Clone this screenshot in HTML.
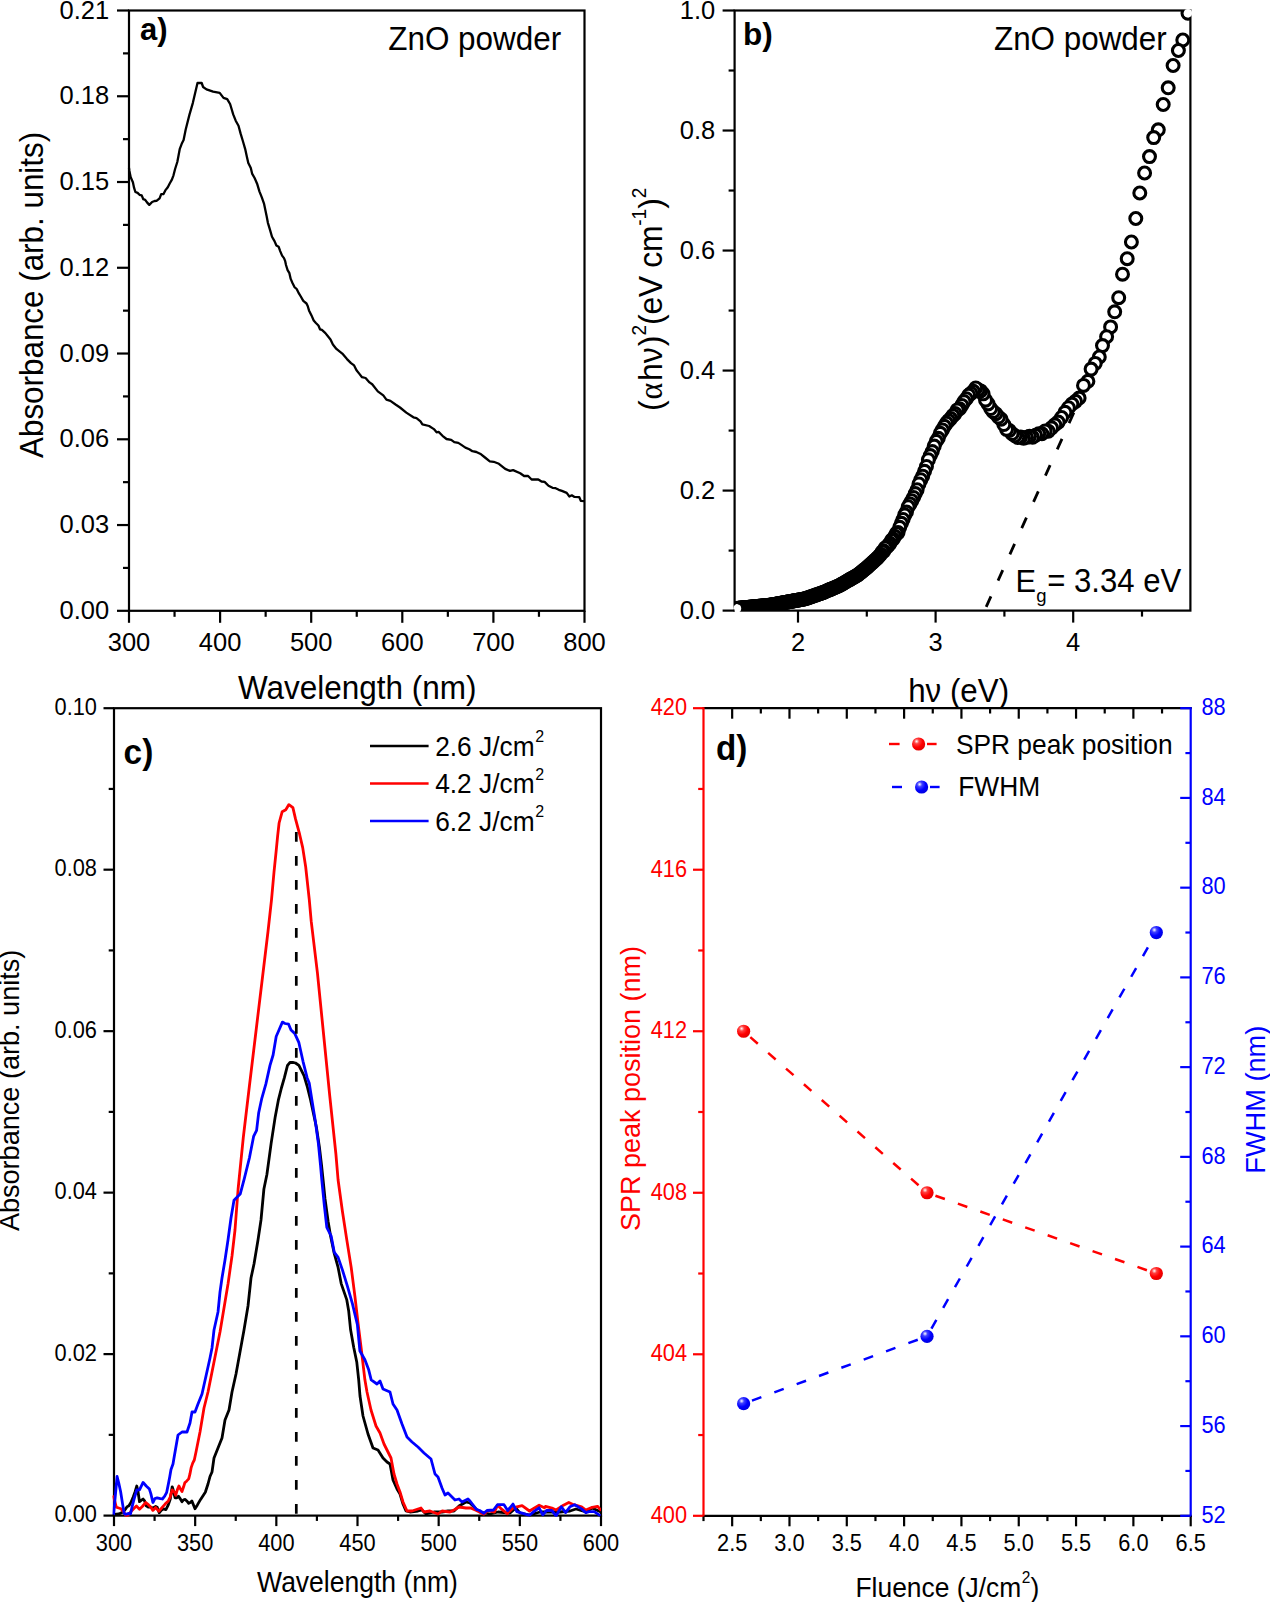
<!DOCTYPE html>
<html><head><meta charset="utf-8"><title>Figure</title>
<style>
html,body{margin:0;padding:0;background:#fff;}
svg{display:block;}
text{font-family:"Liberation Sans", sans-serif;}
</style></head>
<body>
<svg width="1270" height="1602" viewBox="0 0 1270 1602" font-family="Liberation Sans, sans-serif">
<rect width="1270" height="1602" fill="#fff"/>
<g>
<polyline points="129,168 129.4,170.9 130.7,177.2 132.9,182.2 134.1,187.9 135.4,192 137.6,192.9 139.5,194.8 141.7,195.4 143.3,199.2 145.2,199.8 147,202.4 149.3,204.9 152.1,202 154.6,201 156.5,200.8 159.6,198.3 161.2,194.2 163.4,194.2 165.3,190.4 167.8,187.2 169.7,183.5 171.9,179.7 173.5,175.3 175.1,169 177.3,162 178.5,155.7 179.8,148.8 181.7,143.8 183.6,140 185.7,129.5 189.4,114.9 192.8,103.1 197.5,83 201.7,83 203.1,87 206.5,89.4 213.1,91.7 219.7,92.9 223.5,97.9 227.2,99.1 230.1,104 231.9,110 233.2,114.4 235.7,120.7 238.5,125.7 240.7,133.9 243,141.5 245.2,149.1 246.7,156 248.3,162.9 250.8,168 252.1,173.6 254.6,178 257.1,183.7 259.4,191.3 261.9,197.6 264.1,203.9 265.4,210.2 266.7,216.5 267.9,222.8 269.8,229.1 272,236.7 274.5,241.1 276.4,245.5 278.6,246.7 280.2,251.1 282.1,255.6 284,258.1 285.2,261.2 286,265 287.6,270.1 289.4,273.2 290.7,278.9 292.6,283.3 294.5,287.1 296.7,289 298.9,293.4 300.8,296.5 303.3,300.9 306.5,303.5 307.7,306 309,310.4 311.5,315.4 313.7,320.5 315.9,323 318.4,325.5 320,329.3 321.9,329.9 325.4,333.1 327.9,336.2 330.5,339.4 332.9,344.6 336.4,348.9 342.3,353.6 347,359.1 351,363.1 354.1,365.4 356.5,370.2 359.6,374.1 362,377.2 365.6,378 369.5,382.4 372.2,384.3 377.8,391.4 383.3,395.4 386.4,399.7 390.4,400.9 395.9,404.8 400,407.5 406.3,412.6 413.4,417.3 416.5,418.1 420.5,421.3 422.4,424.4 429.1,426 433.9,429.1 436.6,432.3 438.6,431.9 442.5,435.8 446.5,439 451.2,439.8 454.3,442.1 458.3,442.9 461.4,444.9 465.4,447.6 469.3,449.2 472.4,451.2 476.4,452 481.1,454.3 485,457.5 489.8,461.4 493.7,461.8 498.9,463.8 505.2,468.9 510,470.9 513.1,470.1 520.2,473.2 524.1,476 528.1,476 531.6,479.5 538.3,479.5 541.5,481.5 544.6,481.9 548.5,485.8 552.5,487.8 555.6,488.2 558.8,489.8 561.9,490.9 566.7,492.9 569.4,496.5 571.8,495.3 574.5,496.9 579.3,497.2 580.8,500.8 584.5,501.2" fill="none" stroke="#000" stroke-width="2.3" stroke-linejoin="round"/>
<rect x="129" y="10.5" width="455.5" height="600.3" fill="none" stroke="#000" stroke-width="2.2"/>
<line x1="117" y1="610.8" x2="129" y2="610.8" stroke="#000" stroke-width="2.2" />
<text transform="translate(109.2,618.8) scale(1,1.04)" font-size="25.5" text-anchor="end" fill="#000" >0.00</text>
<line x1="123" y1="567.92" x2="129" y2="567.92" stroke="#000" stroke-width="2.2" />
<line x1="117" y1="525.04" x2="129" y2="525.04" stroke="#000" stroke-width="2.2" />
<text transform="translate(109.2,533.04) scale(1,1.04)" font-size="25.5" text-anchor="end" fill="#000" >0.03</text>
<line x1="123" y1="482.16" x2="129" y2="482.16" stroke="#000" stroke-width="2.2" />
<line x1="117" y1="439.29" x2="129" y2="439.29" stroke="#000" stroke-width="2.2" />
<text transform="translate(109.2,447.29) scale(1,1.04)" font-size="25.5" text-anchor="end" fill="#000" >0.06</text>
<line x1="123" y1="396.41" x2="129" y2="396.41" stroke="#000" stroke-width="2.2" />
<line x1="117" y1="353.53" x2="129" y2="353.53" stroke="#000" stroke-width="2.2" />
<text transform="translate(109.2,361.53) scale(1,1.04)" font-size="25.5" text-anchor="end" fill="#000" >0.09</text>
<line x1="123" y1="310.65" x2="129" y2="310.65" stroke="#000" stroke-width="2.2" />
<line x1="117" y1="267.77" x2="129" y2="267.77" stroke="#000" stroke-width="2.2" />
<text transform="translate(109.2,275.77) scale(1,1.04)" font-size="25.5" text-anchor="end" fill="#000" >0.12</text>
<line x1="123" y1="224.89" x2="129" y2="224.89" stroke="#000" stroke-width="2.2" />
<line x1="117" y1="182.01" x2="129" y2="182.01" stroke="#000" stroke-width="2.2" />
<text transform="translate(109.2,190.01) scale(1,1.04)" font-size="25.5" text-anchor="end" fill="#000" >0.15</text>
<line x1="123" y1="139.14" x2="129" y2="139.14" stroke="#000" stroke-width="2.2" />
<line x1="117" y1="96.26" x2="129" y2="96.26" stroke="#000" stroke-width="2.2" />
<text transform="translate(109.2,104.26) scale(1,1.04)" font-size="25.5" text-anchor="end" fill="#000" >0.18</text>
<line x1="123" y1="53.38" x2="129" y2="53.38" stroke="#000" stroke-width="2.2" />
<line x1="117" y1="10.5" x2="129" y2="10.5" stroke="#000" stroke-width="2.2" />
<text transform="translate(109.2,18.5) scale(1,1.04)" font-size="25.5" text-anchor="end" fill="#000" >0.21</text>
<line x1="129" y1="610.8" x2="129" y2="622.8" stroke="#000" stroke-width="2.2" />
<text transform="translate(129,651) scale(1,1.04)" font-size="25.5" text-anchor="middle" fill="#000" >300</text>
<line x1="174.55" y1="610.8" x2="174.55" y2="616.8" stroke="#000" stroke-width="2.2" />
<line x1="220.1" y1="610.8" x2="220.1" y2="622.8" stroke="#000" stroke-width="2.2" />
<text transform="translate(220.1,651) scale(1,1.04)" font-size="25.5" text-anchor="middle" fill="#000" >400</text>
<line x1="265.65" y1="610.8" x2="265.65" y2="616.8" stroke="#000" stroke-width="2.2" />
<line x1="311.2" y1="610.8" x2="311.2" y2="622.8" stroke="#000" stroke-width="2.2" />
<text transform="translate(311.2,651) scale(1,1.04)" font-size="25.5" text-anchor="middle" fill="#000" >500</text>
<line x1="356.75" y1="610.8" x2="356.75" y2="616.8" stroke="#000" stroke-width="2.2" />
<line x1="402.3" y1="610.8" x2="402.3" y2="622.8" stroke="#000" stroke-width="2.2" />
<text transform="translate(402.3,651) scale(1,1.04)" font-size="25.5" text-anchor="middle" fill="#000" >600</text>
<line x1="447.85" y1="610.8" x2="447.85" y2="616.8" stroke="#000" stroke-width="2.2" />
<line x1="493.4" y1="610.8" x2="493.4" y2="622.8" stroke="#000" stroke-width="2.2" />
<text transform="translate(493.4,651) scale(1,1.04)" font-size="25.5" text-anchor="middle" fill="#000" >700</text>
<line x1="538.95" y1="610.8" x2="538.95" y2="616.8" stroke="#000" stroke-width="2.2" />
<line x1="584.5" y1="610.8" x2="584.5" y2="622.8" stroke="#000" stroke-width="2.2" />
<text transform="translate(584.5,651) scale(1,1.04)" font-size="25.5" text-anchor="middle" fill="#000" >800</text>
<text transform="translate(238,698.8) scale(1,1.04)" font-size="31.5" text-anchor="start" fill="#000" >Wavelength (nm)</text>
<text transform="translate(42.9,294.9) rotate(-90) scale(1,1.04)" font-size="31.4" text-anchor="middle" fill="#000">Absorbance (arb. units)</text>
<text transform="translate(139.9,40.2) scale(1,1)" font-size="31" text-anchor="start" fill="#000" font-weight="bold" >a)</text>
<text transform="translate(388.2,50) scale(1,1.04)" font-size="31.45" text-anchor="start" fill="#000" >ZnO powder</text>
</g>
<defs><clipPath id="cb"><rect x="734.6" y="10.5" width="455.8" height="600.1"/></clipPath></defs>
<g clip-path="url(#cb)" fill="#fff" stroke="#000" stroke-width="3.1">
<circle cx="1188" cy="13.2" r="5.95"/>
<circle cx="1182.8" cy="40" r="5.95"/>
<circle cx="1178.4" cy="50.5" r="5.95"/>
<circle cx="1173.1" cy="65.5" r="5.95"/>
<circle cx="1168.2" cy="87.8" r="5.95"/>
<circle cx="1163.2" cy="104.5" r="5.95"/>
<circle cx="1158.3" cy="129.8" r="5.95"/>
<circle cx="1153.7" cy="137.6" r="5.95"/>
<circle cx="1149.5" cy="156.6" r="5.95"/>
<circle cx="1144.6" cy="173" r="5.95"/>
<circle cx="1139.8" cy="193" r="5.95"/>
<circle cx="1135.8" cy="218.5" r="5.95"/>
<circle cx="1131.4" cy="242" r="5.95"/>
<circle cx="1127.2" cy="258.7" r="5.95"/>
<circle cx="1122.5" cy="274.2" r="5.95"/>
<circle cx="1118.7" cy="297.7" r="5.95"/>
<circle cx="1114.7" cy="311.8" r="5.95"/>
<circle cx="1110.6" cy="326.9" r="5.95"/>
<circle cx="1106.6" cy="336.7" r="5.95"/>
<circle cx="1102.5" cy="345.6" r="5.95"/>
<circle cx="1099.3" cy="357" r="5.95"/>
<circle cx="1095.2" cy="363.4" r="5.95"/>
<circle cx="1091.1" cy="369.1" r="5.95"/>
<circle cx="1087.9" cy="381.3" r="5.95"/>
<circle cx="1083.5" cy="385.4" r="5.95"/>
<circle cx="1079.12" cy="398.04" r="5.95"/>
<circle cx="1075.52" cy="401.35" r="5.95"/>
<circle cx="1071.96" cy="404.06" r="5.95"/>
<circle cx="1068.45" cy="407.71" r="5.95"/>
<circle cx="1064.98" cy="412.29" r="5.95"/>
<circle cx="1061.56" cy="417.51" r="5.95"/>
<circle cx="1058.17" cy="422.08" r="5.95"/>
<circle cx="1054.84" cy="424.8" r="5.95"/>
<circle cx="1051.54" cy="427.85" r="5.95"/>
<circle cx="1048.28" cy="431.24" r="5.95"/>
<circle cx="1045.07" cy="430.97" r="5.95"/>
<circle cx="1041.89" cy="433.68" r="5.95"/>
<circle cx="1038.75" cy="433.8" r="5.95"/>
<circle cx="1035.65" cy="435.31" r="5.95"/>
<circle cx="1032.58" cy="437.2" r="5.95"/>
<circle cx="1029.55" cy="436.26" r="5.95"/>
<circle cx="1026.56" cy="437.35" r="5.95"/>
<circle cx="1023.6" cy="438.15" r="5.95"/>
<circle cx="1020.68" cy="437.01" r="5.95"/>
<circle cx="1017.79" cy="437.43" r="5.95"/>
<circle cx="1014.94" cy="435.76" r="5.95"/>
<circle cx="1012.11" cy="433.72" r="5.95"/>
<circle cx="1009.32" cy="430.55" r="5.95"/>
<circle cx="1006.57" cy="429.35" r="5.95"/>
<circle cx="1003.84" cy="424.57" r="5.95"/>
<circle cx="1001.14" cy="419.24" r="5.95"/>
<circle cx="998.47" cy="417.04" r="5.95"/>
<circle cx="995.84" cy="413.71" r="5.95"/>
<circle cx="993.23" cy="411.69" r="5.95"/>
<circle cx="990.65" cy="408.53" r="5.95"/>
<circle cx="988.1" cy="403.88" r="5.95"/>
<circle cx="985.57" cy="400.16" r="5.95"/>
<circle cx="983.08" cy="393.85" r="5.95"/>
<circle cx="980.61" cy="390.89" r="5.95"/>
<circle cx="978.16" cy="389.79" r="5.95"/>
<circle cx="975.74" cy="387.96" r="5.95"/>
<circle cx="973.35" cy="391.3" r="5.95"/>
<circle cx="970.98" cy="393.38" r="5.95"/>
<circle cx="968.64" cy="395.19" r="5.95"/>
<circle cx="966.32" cy="398.71" r="5.95"/>
<circle cx="964.03" cy="401.6" r="5.95"/>
<circle cx="961.76" cy="405.39" r="5.95"/>
<circle cx="959.51" cy="408.73" r="5.95"/>
<circle cx="957.29" cy="409.92" r="5.95"/>
<circle cx="955.09" cy="413.59" r="5.95"/>
<circle cx="952.91" cy="415.65" r="5.95"/>
<circle cx="950.75" cy="418.49" r="5.95"/>
<circle cx="948.61" cy="420.66" r="5.95"/>
<circle cx="946.5" cy="423.1" r="5.95"/>
<circle cx="944.41" cy="426.32" r="5.95"/>
<circle cx="942.33" cy="429.89" r="5.95"/>
<circle cx="940.28" cy="433.29" r="5.95"/>
<circle cx="938.25" cy="438.29" r="5.95"/>
<circle cx="936.23" cy="441.31" r="5.95"/>
<circle cx="934.24" cy="446.11" r="5.95"/>
<circle cx="932.26" cy="451.54" r="5.95"/>
<circle cx="930.31" cy="455.56" r="5.95"/>
<circle cx="928.37" cy="459.72" r="5.95"/>
<circle cx="926.45" cy="466.46" r="5.95"/>
<circle cx="924.55" cy="471.29" r="5.95"/>
<circle cx="922.67" cy="476.17" r="5.95"/>
<circle cx="920.8" cy="479.68" r="5.95"/>
<circle cx="918.96" cy="483.94" r="5.95"/>
<circle cx="917.12" cy="489.77" r="5.95"/>
<circle cx="915.31" cy="493.6" r="5.95"/>
<circle cx="913.51" cy="497.47" r="5.95"/>
<circle cx="911.73" cy="500.75" r="5.95"/>
<circle cx="909.97" cy="503.89" r="5.95"/>
<circle cx="908.22" cy="506.74" r="5.95"/>
<circle cx="906.48" cy="512.04" r="5.95"/>
<circle cx="904.77" cy="514.83" r="5.95"/>
<circle cx="903.06" cy="519.51" r="5.95"/>
<circle cx="901.38" cy="523.31" r="5.95"/>
<circle cx="899.7" cy="527.34" r="5.95"/>
<circle cx="898.05" cy="532.62" r="5.95"/>
<circle cx="896.4" cy="533.34" r="5.95"/>
<circle cx="894.77" cy="536.31" r="5.95"/>
<circle cx="893.16" cy="539.03" r="5.95"/>
<circle cx="891.56" cy="540.37" r="5.95"/>
<circle cx="889.97" cy="543.33" r="5.95"/>
<circle cx="888.4" cy="545.17" r="5.95"/>
<circle cx="886.84" cy="547.02" r="5.95"/>
<circle cx="885.29" cy="547.91" r="5.95"/>
<circle cx="883.76" cy="551.09" r="5.95"/>
<circle cx="882.24" cy="551.68" r="5.95"/>
<circle cx="880.73" cy="554.26" r="5.95"/>
<circle cx="879.23" cy="555.94" r="5.95"/>
<circle cx="877.75" cy="557.62" r="5.95"/>
<circle cx="876.28" cy="558.97" r="5.95"/>
<circle cx="874.82" cy="560.31" r="5.95"/>
<circle cx="873.37" cy="561.64" r="5.95"/>
<circle cx="871.94" cy="562.96" r="5.95"/>
<circle cx="870.52" cy="564.27" r="5.95"/>
<circle cx="869.1" cy="565.57" r="5.95"/>
<circle cx="867.7" cy="566.85" r="5.95"/>
<circle cx="866.32" cy="568.05" r="5.95"/>
<circle cx="864.94" cy="569.17" r="5.95"/>
<circle cx="863.57" cy="570.27" r="5.95"/>
<circle cx="862.22" cy="571.37" r="5.95"/>
<circle cx="860.87" cy="572.46" r="5.95"/>
<circle cx="859.54" cy="573.54" r="5.95"/>
<circle cx="858.21" cy="574.61" r="5.95"/>
<circle cx="856.9" cy="575.4" r="5.95"/>
<circle cx="855.6" cy="576.15" r="5.95"/>
<circle cx="854.3" cy="576.91" r="5.95"/>
<circle cx="853.02" cy="577.65" r="5.95"/>
<circle cx="851.75" cy="578.39" r="5.95"/>
<circle cx="850.48" cy="579.12" r="5.95"/>
<circle cx="849.23" cy="579.85" r="5.95"/>
<circle cx="847.98" cy="580.57" r="5.95"/>
<circle cx="846.75" cy="581.29" r="5.95"/>
<circle cx="845.52" cy="582" r="5.95"/>
<circle cx="844.31" cy="582.71" r="5.95"/>
<circle cx="843.1" cy="583.41" r="5.95"/>
<circle cx="841.9" cy="584.11" r="5.95"/>
<circle cx="840.71" cy="584.8" r="5.95"/>
<circle cx="839.53" cy="585.48" r="5.95"/>
<circle cx="838.36" cy="585.98" r="5.95"/>
<circle cx="837.2" cy="586.48" r="5.95"/>
<circle cx="836.04" cy="586.97" r="5.95"/>
<circle cx="834.9" cy="587.45" r="5.95"/>
<circle cx="833.76" cy="587.94" r="5.95"/>
<circle cx="832.63" cy="588.42" r="5.95"/>
<circle cx="831.51" cy="588.89" r="5.95"/>
<circle cx="830.4" cy="589.36" r="5.95"/>
<circle cx="829.29" cy="589.83" r="5.95"/>
<circle cx="828.19" cy="590.3" r="5.95"/>
<circle cx="827.11" cy="590.76" r="5.95"/>
<circle cx="826.02" cy="591.22" r="5.95"/>
<circle cx="824.95" cy="591.68" r="5.95"/>
<circle cx="823.88" cy="592.13" r="5.95"/>
<circle cx="822.82" cy="592.58" r="5.95"/>
<circle cx="821.77" cy="592.98" r="5.95"/>
<circle cx="820.73" cy="593.34" r="5.95"/>
<circle cx="819.69" cy="593.7" r="5.95"/>
<circle cx="818.66" cy="594.06" r="5.95"/>
<circle cx="817.64" cy="594.42" r="5.95"/>
<circle cx="816.62" cy="594.77" r="5.95"/>
<circle cx="815.62" cy="595.12" r="5.95"/>
<circle cx="814.61" cy="595.47" r="5.95"/>
<circle cx="813.62" cy="595.81" r="5.95"/>
<circle cx="812.63" cy="596.15" r="5.95"/>
<circle cx="811.65" cy="596.49" r="5.95"/>
<circle cx="810.68" cy="596.83" r="5.95"/>
<circle cx="809.71" cy="597.17" r="5.95"/>
<circle cx="808.75" cy="597.5" r="5.95"/>
<circle cx="807.79" cy="597.83" r="5.95"/>
<circle cx="806.84" cy="598.16" r="5.95"/>
<circle cx="805.9" cy="598.49" r="5.95"/>
<circle cx="804.96" cy="598.81" r="5.95"/>
<circle cx="804.03" cy="598.98" r="5.95"/>
<circle cx="803.11" cy="599.15" r="5.95"/>
<circle cx="802.19" cy="599.31" r="5.95"/>
<circle cx="801.28" cy="599.48" r="5.95"/>
<circle cx="800.37" cy="599.65" r="5.95"/>
<circle cx="799.47" cy="599.81" r="5.95"/>
<circle cx="798.58" cy="599.97" r="5.95"/>
<circle cx="797.69" cy="600.14" r="5.95"/>
<circle cx="796.81" cy="600.3" r="5.95"/>
<circle cx="795.93" cy="600.46" r="5.95"/>
<circle cx="795.06" cy="600.62" r="5.95"/>
<circle cx="794.19" cy="600.78" r="5.95"/>
<circle cx="793.33" cy="600.93" r="5.95"/>
<circle cx="792.48" cy="601.09" r="5.95"/>
<circle cx="791.63" cy="601.25" r="5.95"/>
<circle cx="790.78" cy="601.4" r="5.95"/>
<circle cx="789.94" cy="601.55" r="5.95"/>
<circle cx="789.11" cy="601.71" r="5.95"/>
<circle cx="788.28" cy="601.86" r="5.95"/>
<circle cx="787.46" cy="602.01" r="5.95"/>
<circle cx="786.64" cy="602.16" r="5.95"/>
<circle cx="785.82" cy="602.31" r="5.95"/>
<circle cx="785.02" cy="602.45" r="5.95"/>
<circle cx="784.21" cy="602.6" r="5.95"/>
<circle cx="783.41" cy="602.75" r="5.95"/>
<circle cx="782.62" cy="602.89" r="5.95"/>
<circle cx="781.83" cy="603.04" r="5.95"/>
<circle cx="781.05" cy="603.18" r="5.95"/>
<circle cx="780.27" cy="603.32" r="5.95"/>
<circle cx="779.49" cy="603.46" r="5.95"/>
<circle cx="778.72" cy="603.6" r="5.95"/>
<circle cx="777.96" cy="603.74" r="5.95"/>
<circle cx="777.2" cy="603.88" r="5.95"/>
<circle cx="776.44" cy="604.02" r="5.95"/>
<circle cx="775.69" cy="604.16" r="5.95"/>
<circle cx="774.94" cy="604.3" r="5.95"/>
<circle cx="774.2" cy="604.43" r="5.95"/>
<circle cx="773.46" cy="604.57" r="5.95"/>
<circle cx="772.73" cy="604.7" r="5.95"/>
<circle cx="772" cy="604.84" r="5.95"/>
<circle cx="771.27" cy="604.97" r="5.95"/>
<circle cx="770.55" cy="605.1" r="5.95"/>
<circle cx="769.83" cy="605.22" r="5.95"/>
<circle cx="769.12" cy="605.29" r="5.95"/>
<circle cx="768.41" cy="605.36" r="5.95"/>
<circle cx="767.7" cy="605.42" r="5.95"/>
<circle cx="767" cy="605.49" r="5.95"/>
<circle cx="766.31" cy="605.56" r="5.95"/>
<circle cx="765.61" cy="605.63" r="5.95"/>
<circle cx="764.92" cy="605.7" r="5.95"/>
<circle cx="764.24" cy="605.76" r="5.95"/>
<circle cx="763.56" cy="605.83" r="5.95"/>
<circle cx="762.88" cy="605.9" r="5.95"/>
<circle cx="762.21" cy="605.96" r="5.95"/>
<circle cx="761.54" cy="606.03" r="5.95"/>
<circle cx="760.87" cy="606.09" r="5.95"/>
<circle cx="760.21" cy="606.16" r="5.95"/>
<circle cx="759.55" cy="606.22" r="5.95"/>
<circle cx="758.89" cy="606.29" r="5.95"/>
<circle cx="758.24" cy="606.35" r="5.95"/>
<circle cx="757.59" cy="606.41" r="5.95"/>
<circle cx="756.95" cy="606.48" r="5.95"/>
<circle cx="756.31" cy="606.54" r="5.95"/>
<circle cx="755.67" cy="606.6" r="5.95"/>
<circle cx="755.04" cy="606.66" r="5.95"/>
<circle cx="754.41" cy="606.73" r="5.95"/>
<circle cx="753.78" cy="606.79" r="5.95"/>
<circle cx="753.16" cy="606.85" r="5.95"/>
<circle cx="752.53" cy="606.91" r="5.95"/>
<circle cx="751.92" cy="606.97" r="5.95"/>
<circle cx="751.3" cy="607.03" r="5.95"/>
<circle cx="750.69" cy="607.09" r="5.95"/>
<circle cx="750.09" cy="607.15" r="5.95"/>
<circle cx="749.48" cy="607.21" r="5.95"/>
<circle cx="748.88" cy="607.27" r="5.95"/>
<circle cx="748.28" cy="607.33" r="5.95"/>
<circle cx="747.69" cy="607.38" r="5.95"/>
<circle cx="747.1" cy="607.44" r="5.95"/>
<circle cx="746.51" cy="607.5" r="5.95"/>
<circle cx="745.93" cy="607.56" r="5.95"/>
<circle cx="745.34" cy="607.61" r="5.95"/>
<circle cx="744.76" cy="607.67" r="5.95"/>
<circle cx="744.19" cy="607.73" r="5.95"/>
<circle cx="743.62" cy="607.78" r="5.95"/>
<circle cx="743.05" cy="607.84" r="5.95"/>
<circle cx="742.48" cy="607.89" r="5.95"/>
<circle cx="741.91" cy="607.95" r="5.95"/>
<circle cx="741.35" cy="608" r="5.95"/>
<circle cx="740.79" cy="608.06" r="5.95"/>
<circle cx="740.24" cy="608.11" r="5.95"/>
<circle cx="739.69" cy="608.17" r="5.95"/>
<circle cx="739.14" cy="608.22" r="5.95"/>
<circle cx="738.59" cy="608.27" r="5.95"/>
<circle cx="738.04" cy="608.33" r="5.95"/>
<circle cx="737.5" cy="608.38" r="5.95"/>
<circle cx="736.96" cy="608.42" r="5.95"/>
<circle cx="736.43" cy="608.45" r="5.95"/>
<circle cx="735.89" cy="608.49" r="5.95"/>
</g>
<line x1="986.2" y1="606.9" x2="1075" y2="410" stroke="#000" stroke-width="2.8" stroke-dasharray="11.5 17.3"/>
<rect x="734.6" y="10.5" width="455.8" height="600.1" fill="none" stroke="#000" stroke-width="2.2"/>
<circle cx="1188" cy="13.2" r="4.1" fill="#fff"/>
<circle cx="737.3" cy="608.4" r="3.9" fill="#fff"/>
<line x1="722.6" y1="610.6" x2="734.6" y2="610.6" stroke="#000" stroke-width="2.2" />
<text transform="translate(715.3,618.6) scale(1,1.04)" font-size="25.5" text-anchor="end" fill="#000" >0.0</text>
<line x1="728.6" y1="550.59" x2="734.6" y2="550.59" stroke="#000" stroke-width="2.2" />
<line x1="722.6" y1="490.58" x2="734.6" y2="490.58" stroke="#000" stroke-width="2.2" />
<text transform="translate(715.3,498.58) scale(1,1.04)" font-size="25.5" text-anchor="end" fill="#000" >0.2</text>
<line x1="728.6" y1="430.57" x2="734.6" y2="430.57" stroke="#000" stroke-width="2.2" />
<line x1="722.6" y1="370.56" x2="734.6" y2="370.56" stroke="#000" stroke-width="2.2" />
<text transform="translate(715.3,378.56) scale(1,1.04)" font-size="25.5" text-anchor="end" fill="#000" >0.4</text>
<line x1="728.6" y1="310.55" x2="734.6" y2="310.55" stroke="#000" stroke-width="2.2" />
<line x1="722.6" y1="250.54" x2="734.6" y2="250.54" stroke="#000" stroke-width="2.2" />
<text transform="translate(715.3,258.54) scale(1,1.04)" font-size="25.5" text-anchor="end" fill="#000" >0.6</text>
<line x1="728.6" y1="190.53" x2="734.6" y2="190.53" stroke="#000" stroke-width="2.2" />
<line x1="722.6" y1="130.52" x2="734.6" y2="130.52" stroke="#000" stroke-width="2.2" />
<text transform="translate(715.3,138.52) scale(1,1.04)" font-size="25.5" text-anchor="end" fill="#000" >0.8</text>
<line x1="728.6" y1="70.51" x2="734.6" y2="70.51" stroke="#000" stroke-width="2.2" />
<line x1="722.6" y1="10.5" x2="734.6" y2="10.5" stroke="#000" stroke-width="2.2" />
<text transform="translate(715.3,18.5) scale(1,1.04)" font-size="25.5" text-anchor="end" fill="#000" >1.0</text>
<line x1="798" y1="610.6" x2="798" y2="622.6" stroke="#000" stroke-width="2.2" />
<text transform="translate(798,651) scale(1,1.04)" font-size="25.5" text-anchor="middle" fill="#000" >2</text>
<line x1="866.8" y1="610.6" x2="866.8" y2="616.6" stroke="#000" stroke-width="2.2" />
<line x1="935.6" y1="610.6" x2="935.6" y2="622.6" stroke="#000" stroke-width="2.2" />
<text transform="translate(935.6,651) scale(1,1.04)" font-size="25.5" text-anchor="middle" fill="#000" >3</text>
<line x1="1004.4" y1="610.6" x2="1004.4" y2="616.6" stroke="#000" stroke-width="2.2" />
<line x1="1073.2" y1="610.6" x2="1073.2" y2="622.6" stroke="#000" stroke-width="2.2" />
<text transform="translate(1073.2,651) scale(1,1.04)" font-size="25.5" text-anchor="middle" fill="#000" >4</text>
<line x1="1142" y1="610.6" x2="1142" y2="616.6" stroke="#000" stroke-width="2.2" />
<text transform="translate(908.2,702.1) scale(1,1.04)" font-size="31.3" text-anchor="start" fill="#000" >hν (eV)</text>
<text font-size="32" text-anchor="middle" transform="translate(662.1,299.3) rotate(-90) scale(1,1.04)">(<tspan font-family="Liberation Serif, serif" font-size="32" dx="0.8">α</tspan><tspan dx="1.8">hν</tspan><tspan dx="1">)</tspan><tspan font-size="19" dy="-15.5">2</tspan><tspan dy="15.5" letter-spacing="-0.35">(eV cm</tspan><tspan font-size="19" dy="-15.5">-1</tspan><tspan dy="15.5">)</tspan><tspan font-size="19" dy="-15.5">2</tspan></text>
<text transform="translate(743,44.8) scale(1,1)" font-size="31.5" text-anchor="start" fill="#000" font-weight="bold" >b)</text>
<text transform="translate(994,50) scale(1,1.04)" font-size="31.4" text-anchor="start" fill="#000" >ZnO powder</text>
<text transform="translate(1015.6,591.6) scale(1,1.04)" font-size="30.8" text-anchor="start" fill="#000" >E</text>
<text transform="translate(1036.3,602.4) scale(1,1.04)" font-size="18.5" text-anchor="start" fill="#000" >g</text>
<text transform="translate(1047.2,591.6) scale(1,1.04)" font-size="31.1" text-anchor="start" fill="#000" >= 3.34 eV</text>
<rect x="114" y="708.2" width="487" height="807.4" fill="none" stroke="#000" stroke-width="2.2"/>
<defs><clipPath id="cc"><rect x="112.5" y="708.2" width="488.5" height="808.6"/></clipPath></defs>
<g clip-path="url(#cc)" fill="none" stroke-width="2.8" stroke-linejoin="round">
<polyline points="114,1514.5 119,1514 123,1512 125.7,1508.8 126.9,1506.9 128.9,1505.7 130.9,1502.5 133.2,1497 135.2,1491.5 136.8,1486 138,1491.5 139.5,1501.7 141.5,1500.2 143.1,1499 144.6,1500.9 146.2,1505.7 148.6,1507.2 150.9,1507.2 152.9,1508 155.7,1506.5 157.2,1507.2 159.2,1512.8 161.2,1510.4 163.5,1508.8 165.9,1509.6 168.3,1504.9 170.2,1499.4 172.2,1486.8 173,1489.1 175,1497.8 176.9,1497.8 178.5,1496.2 180.1,1498.6 182,1501.7 183.6,1499.8 185.2,1499.4 186.8,1500.9 188.7,1503.3 190.3,1502.5 191.9,1500.9 195,1508.8 197.4,1504.9 200.6,1499.4 205.3,1492.3 208,1484 210,1476.5 212,1472 214,1458 218,1448 222,1438 225,1420 229,1410 232,1392 236,1374 240,1352 244,1330 248,1306 251,1278 254,1264 258,1240 261,1220 263.9,1189 266.9,1174.5 271.1,1143.6 275.2,1116.9 278.3,1100.4 281.4,1088 284.4,1077.7 287.5,1065.4 290,1062.5 292.7,1062.3 295.5,1063 298.9,1065.4 304,1075.7 307.1,1086 310.2,1098.3 313.3,1112.7 316.4,1127.2 319.5,1147.8 321.5,1165 323.1,1180 325,1198.7 328.1,1221.2 330.6,1236.2 334.3,1253.7 338.1,1267.4 341.2,1283.6 346.8,1299.9 348.7,1311.1 350.6,1329.8 353.7,1347.3 356.8,1362.3 358.7,1379.8 360,1396 363,1416 368,1434 373,1448 378,1450 383,1458 387,1462 390,1464 393,1480 397,1489 400,1494 403,1504 406,1511 410,1512 418,1511 422,1510 426,1514 434,1512 442,1512 448,1511 454,1511 459,1506 466,1502 470,1503 476,1509 480,1512 490,1514 498,1512 510,1513 516,1508 520,1513 530,1515 540,1512 550,1512 560,1512 570,1511 576,1509 586,1512 592,1508 601,1512" stroke="#000"/>
<polyline points="113.1,1495.4 114.7,1500.9 116.3,1507.2 118.7,1508 121,1508.8 123.8,1512 126.1,1515.9 128.1,1515.1 130.5,1512 133.6,1508.8 136.4,1506.1 139.5,1509.2 142.3,1506.5 145.8,1502.5 148.6,1504.9 150.9,1507.2 152.9,1510.4 155.7,1507.6 158.8,1511.2 162,1507.6 165.1,1504.1 168.3,1500.9 170.2,1497 172.2,1489.9 174.6,1492.3 175.7,1495.4 177.3,1489.9 178.9,1486 180.5,1489.1 182,1491.5 183.6,1486.8 184.8,1482.8 186.8,1480.9 188.7,1478.9 189.9,1474.2 191.1,1467.9 192.7,1463.1 194.3,1460 196,1452 200,1432 204,1408 208,1392 212,1372 216,1352 220,1332 224,1308 228,1284 232,1256 235,1230 238.1,1189 243.3,1137.5 249.4,1086 255.6,1034.5 261.8,983 268,931.5 271.5,899.8 274,872.1 276.1,851.6 277.6,836.3 279.1,823 282.2,811.7 285.8,809.7 288.9,804.6 292.9,807.6 295.5,818.9 299.6,834.2 302.7,847.6 305.7,867 309.3,899.8 311.2,921.2 317.4,972.7 323.6,1034.5 329.8,1096.3 335.9,1154 338.1,1180 342.4,1211.2 346.8,1239.9 351.2,1267.4 354.9,1296.1 358.1,1323.6 361.2,1348.5 364.9,1379.8 367,1392 371,1410 376,1426 380,1433 384,1444 388,1452 391,1458 394,1474 397,1484 400,1492 403,1502 407,1511 412,1511 418,1509 421,1508 424,1512 430,1511 438,1514 442,1511 450,1512 454,1510 459,1507 466,1508 470,1507.8 476.4,1510.5 483.8,1514.2 488.1,1510.5 494.4,1512.1 497.6,1505.2 501.9,1509.4 507.2,1513.7 512.5,1508.4 516.8,1506.8 522.1,1505.7 529.5,1511 539.1,1505.2 544.4,1507.8 545.5,1506.3 552.9,1508.4 556.1,1510 563.5,1505.2 568.8,1502.5 573.6,1504.7 581.6,1506.8 585.8,1510 592.2,1507.3 597.5,1506.3 601.2,1510.5" stroke="#f00"/>
<polyline points="113.5,1515.1 117.1,1476.5 118.7,1482.8 120.6,1491.5 122.6,1504.1 124.2,1513.5 125.7,1514.3 128.1,1513.5 130.5,1513.9 132,1507.2 134,1499.4 136.8,1489.9 139.5,1489.9 143.1,1482.4 146.2,1486 149.4,1489.1 150.9,1493.9 152.9,1502.5 154.9,1498.6 157.2,1497.8 160.4,1498.6 162.4,1499 164.7,1496.2 166.7,1492.3 168.3,1484.4 169.8,1476.5 171,1469.4 173,1463.9 174,1458 178,1435 182,1432 187,1432 190,1423 192,1412 195,1412 198,1404 202,1394 206,1376 210,1358 212,1348 214,1330 218,1312 220,1292 222,1278 225,1260 228,1240 231,1218 234,1200.3 240.2,1194.1 244.3,1178.7 249.4,1158 253.6,1136.4 256.6,1130.3 258.7,1112.7 261.8,1098.3 265.9,1083.9 270,1065.4 273.1,1055 276.2,1036.5 279,1030 282.4,1022.1 285,1023.5 288.6,1024.2 291,1030 294.7,1033.4 298.9,1042.7 303,1061.3 307.1,1077.7 309.2,1082.9 312.3,1102.5 315.3,1121 318.4,1143.6 320.5,1165 321.8,1180 324.3,1205 326.8,1227.4 331.2,1236.2 334.3,1252.4 338.1,1257.4 342.4,1269.9 347.4,1286.1 352.4,1303.6 357.4,1324.8 359.9,1351 364.9,1359.8 368.7,1369.8 371.2,1379.8 377,1384 380,1381 383,1389 390,1392 393,1404 397,1410 402,1424 407,1437 412,1442 418,1447 424,1453 431,1459 435,1474 438,1477 442,1488 445,1495 448,1493 455,1500 459,1499 462,1502 468,1499 470,1501 476.4,1509.4 479.6,1510.5 483.8,1513.2 487,1510.5 493.4,1510 497.6,1504.7 504,1504.7 507.7,1510.5 513,1504.1 516.8,1511.6 522.1,1513.2 529.5,1515.3 533.8,1511.6 539.1,1507.8 542.8,1514.8 546.5,1510.5 551.8,1510.5 556.1,1515.8 561.4,1506.8 565.6,1512.6 569.9,1506.8 574.7,1504.7 581.6,1508.9 585.8,1512.6 589,1511.6 594.3,1511.6 601.2,1516.3" stroke="#00f"/>
</g>
<line x1="296.3" y1="832" x2="296.3" y2="1515" stroke="#000" stroke-width="2.7" stroke-dasharray="9.8 14.2"/>
<line x1="103.5" y1="1515.6" x2="114" y2="1515.6" stroke="#000" stroke-width="2.2" />
<text transform="translate(97,1522.4) scale(1,1.08)" font-size="21.8" text-anchor="end" fill="#000" >0.00</text>
<line x1="108.7" y1="1434.86" x2="114" y2="1434.86" stroke="#000" stroke-width="2.2" />
<line x1="103.5" y1="1354.12" x2="114" y2="1354.12" stroke="#000" stroke-width="2.2" />
<text transform="translate(97,1360.92) scale(1,1.08)" font-size="21.8" text-anchor="end" fill="#000" >0.02</text>
<line x1="108.7" y1="1273.38" x2="114" y2="1273.38" stroke="#000" stroke-width="2.2" />
<line x1="103.5" y1="1192.64" x2="114" y2="1192.64" stroke="#000" stroke-width="2.2" />
<text transform="translate(97,1199.44) scale(1,1.08)" font-size="21.8" text-anchor="end" fill="#000" >0.04</text>
<line x1="108.7" y1="1111.9" x2="114" y2="1111.9" stroke="#000" stroke-width="2.2" />
<line x1="103.5" y1="1031.16" x2="114" y2="1031.16" stroke="#000" stroke-width="2.2" />
<text transform="translate(97,1037.96) scale(1,1.08)" font-size="21.8" text-anchor="end" fill="#000" >0.06</text>
<line x1="108.7" y1="950.42" x2="114" y2="950.42" stroke="#000" stroke-width="2.2" />
<line x1="103.5" y1="869.68" x2="114" y2="869.68" stroke="#000" stroke-width="2.2" />
<text transform="translate(97,876.48) scale(1,1.08)" font-size="21.8" text-anchor="end" fill="#000" >0.08</text>
<line x1="108.7" y1="788.94" x2="114" y2="788.94" stroke="#000" stroke-width="2.2" />
<line x1="103.5" y1="708.2" x2="114" y2="708.2" stroke="#000" stroke-width="2.2" />
<text transform="translate(97,715) scale(1,1.08)" font-size="21.8" text-anchor="end" fill="#000" >0.10</text>
<line x1="114" y1="1515.6" x2="114" y2="1526.1" stroke="#000" stroke-width="2.2" />
<text transform="translate(114,1550.8) scale(1,1.08)" font-size="21.8" text-anchor="middle" fill="#000" >300</text>
<line x1="154.58" y1="1515.6" x2="154.58" y2="1520.9" stroke="#000" stroke-width="2.2" />
<line x1="195.17" y1="1515.6" x2="195.17" y2="1526.1" stroke="#000" stroke-width="2.2" />
<text transform="translate(195.17,1550.8) scale(1,1.08)" font-size="21.8" text-anchor="middle" fill="#000" >350</text>
<line x1="235.75" y1="1515.6" x2="235.75" y2="1520.9" stroke="#000" stroke-width="2.2" />
<line x1="276.33" y1="1515.6" x2="276.33" y2="1526.1" stroke="#000" stroke-width="2.2" />
<text transform="translate(276.33,1550.8) scale(1,1.08)" font-size="21.8" text-anchor="middle" fill="#000" >400</text>
<line x1="316.92" y1="1515.6" x2="316.92" y2="1520.9" stroke="#000" stroke-width="2.2" />
<line x1="357.5" y1="1515.6" x2="357.5" y2="1526.1" stroke="#000" stroke-width="2.2" />
<text transform="translate(357.5,1550.8) scale(1,1.08)" font-size="21.8" text-anchor="middle" fill="#000" >450</text>
<line x1="398.08" y1="1515.6" x2="398.08" y2="1520.9" stroke="#000" stroke-width="2.2" />
<line x1="438.67" y1="1515.6" x2="438.67" y2="1526.1" stroke="#000" stroke-width="2.2" />
<text transform="translate(438.67,1550.8) scale(1,1.08)" font-size="21.8" text-anchor="middle" fill="#000" >500</text>
<line x1="479.25" y1="1515.6" x2="479.25" y2="1520.9" stroke="#000" stroke-width="2.2" />
<line x1="519.83" y1="1515.6" x2="519.83" y2="1526.1" stroke="#000" stroke-width="2.2" />
<text transform="translate(519.83,1550.8) scale(1,1.08)" font-size="21.8" text-anchor="middle" fill="#000" >550</text>
<line x1="560.42" y1="1515.6" x2="560.42" y2="1520.9" stroke="#000" stroke-width="2.2" />
<line x1="601" y1="1515.6" x2="601" y2="1526.1" stroke="#000" stroke-width="2.2" />
<text transform="translate(601,1550.8) scale(1,1.08)" font-size="21.8" text-anchor="middle" fill="#000" >600</text>
<text transform="translate(257.1,1592.4) scale(1,1.08)" font-size="26.5" text-anchor="start" fill="#000" >Wavelength (nm)</text>
<text transform="translate(18.9,1090.4) rotate(-90) scale(1,1.04)" font-size="27.1" text-anchor="middle" fill="#000">Absorbance (arb. units)</text>
<text transform="translate(123.6,763.5) scale(1,1.05)" font-size="33.4" text-anchor="start" fill="#000" font-weight="bold" >c)</text>
<line x1="370" y1="746" x2="428.6" y2="746" stroke="#000" stroke-width="2.5" />
<text transform="translate(435.2,755.7) scale(1,1.08)" font-size="26.3">2.6 J/cm<tspan font-size="16" dx="0.6" dy="-12.4">2</tspan></text>
<line x1="370" y1="783.5" x2="428.6" y2="783.5" stroke="#f00" stroke-width="2.5" />
<text transform="translate(435.2,793.2) scale(1,1.08)" font-size="26.3">4.2 J/cm<tspan font-size="16" dx="0.6" dy="-12.4">2</tspan></text>
<line x1="370" y1="821" x2="428.6" y2="821" stroke="#00f" stroke-width="2.5" />
<text transform="translate(435.2,830.7) scale(1,1.08)" font-size="26.3">6.2 J/cm<tspan font-size="16" dx="0.6" dy="-12.4">2</tspan></text>
<defs><radialGradient id="gr" cx="0.35" cy="0.3" r="0.75"><stop offset="0" stop-color="#fff"/><stop offset="0.25" stop-color="#ff4040"/><stop offset="0.6" stop-color="#f00"/><stop offset="1" stop-color="#d00"/></radialGradient><radialGradient id="gb" cx="0.35" cy="0.3" r="0.75"><stop offset="0" stop-color="#fff"/><stop offset="0.25" stop-color="#4040ff"/><stop offset="0.6" stop-color="#00f"/><stop offset="1" stop-color="#00d"/></radialGradient></defs>
<line x1="750.3" y1="1037.12" x2="921.79" y2="1188.13" stroke="#f00" stroke-width="2.5" stroke-dasharray="10 13.8"/>
<line x1="751.98" y1="1400.57" x2="920.47" y2="1338.74" stroke="#00f" stroke-width="2.5" stroke-dasharray="10 13.8"/>
<line x1="935.43" y1="1195.72" x2="1149.71" y2="1271.19" stroke="#f00" stroke-width="2.5" stroke-dasharray="10 13.8"/>
<line x1="931.43" y1="1328.59" x2="1152.85" y2="938.62" stroke="#00f" stroke-width="2.5" stroke-dasharray="10 13.8"/>
<circle cx="743.62" cy="1031.24" r="6.6" fill="url(#gr)"/>
<circle cx="927.04" cy="1192.76" r="6.6" fill="url(#gr)"/>
<circle cx="1156.31" cy="1273.52" r="6.6" fill="url(#gr)"/>
<circle cx="743.62" cy="1403.63" r="6.6" fill="url(#gb)"/>
<circle cx="927.04" cy="1336.33" r="6.6" fill="url(#gb)"/>
<circle cx="1156.31" cy="932.53" r="6.6" fill="url(#gb)"/>
<line x1="703.5" y1="708.2" x2="1190.7" y2="708.2" stroke="#000" stroke-width="2.2" stroke-linecap="square"/>
<line x1="703.5" y1="1515.8" x2="1190.7" y2="1515.8" stroke="#000" stroke-width="2.2" stroke-linecap="square"/>
<line x1="703.5" y1="707.2" x2="703.5" y2="1516.8" stroke="#f00" stroke-width="2.2" />
<line x1="1190.7" y1="707.2" x2="1190.7" y2="1516.8" stroke="#00f" stroke-width="2.2" />
<line x1="703.5" y1="1515.8" x2="703.5" y2="1521.1" stroke="#000" stroke-width="2.2" />
<line x1="732.16" y1="1515.8" x2="732.16" y2="1526.3" stroke="#000" stroke-width="2.2" />
<line x1="732.16" y1="708.2" x2="732.16" y2="718.7" stroke="#000" stroke-width="2.2" />
<text transform="translate(732.16,1550.8) scale(1,1.08)" font-size="21.8" text-anchor="middle" fill="#000" >2.5</text>
<line x1="760.82" y1="1515.8" x2="760.82" y2="1521.1" stroke="#000" stroke-width="2.2" />
<line x1="760.82" y1="708.2" x2="760.82" y2="713.5" stroke="#000" stroke-width="2.2" />
<line x1="789.48" y1="1515.8" x2="789.48" y2="1526.3" stroke="#000" stroke-width="2.2" />
<line x1="789.48" y1="708.2" x2="789.48" y2="718.7" stroke="#000" stroke-width="2.2" />
<text transform="translate(789.48,1550.8) scale(1,1.08)" font-size="21.8" text-anchor="middle" fill="#000" >3.0</text>
<line x1="818.14" y1="1515.8" x2="818.14" y2="1521.1" stroke="#000" stroke-width="2.2" />
<line x1="818.14" y1="708.2" x2="818.14" y2="713.5" stroke="#000" stroke-width="2.2" />
<line x1="846.79" y1="1515.8" x2="846.79" y2="1526.3" stroke="#000" stroke-width="2.2" />
<line x1="846.79" y1="708.2" x2="846.79" y2="718.7" stroke="#000" stroke-width="2.2" />
<text transform="translate(846.79,1550.8) scale(1,1.08)" font-size="21.8" text-anchor="middle" fill="#000" >3.5</text>
<line x1="875.45" y1="1515.8" x2="875.45" y2="1521.1" stroke="#000" stroke-width="2.2" />
<line x1="875.45" y1="708.2" x2="875.45" y2="713.5" stroke="#000" stroke-width="2.2" />
<line x1="904.11" y1="1515.8" x2="904.11" y2="1526.3" stroke="#000" stroke-width="2.2" />
<line x1="904.11" y1="708.2" x2="904.11" y2="718.7" stroke="#000" stroke-width="2.2" />
<text transform="translate(904.11,1550.8) scale(1,1.08)" font-size="21.8" text-anchor="middle" fill="#000" >4.0</text>
<line x1="932.77" y1="1515.8" x2="932.77" y2="1521.1" stroke="#000" stroke-width="2.2" />
<line x1="932.77" y1="708.2" x2="932.77" y2="713.5" stroke="#000" stroke-width="2.2" />
<line x1="961.43" y1="1515.8" x2="961.43" y2="1526.3" stroke="#000" stroke-width="2.2" />
<line x1="961.43" y1="708.2" x2="961.43" y2="718.7" stroke="#000" stroke-width="2.2" />
<text transform="translate(961.43,1550.8) scale(1,1.08)" font-size="21.8" text-anchor="middle" fill="#000" >4.5</text>
<line x1="990.09" y1="1515.8" x2="990.09" y2="1521.1" stroke="#000" stroke-width="2.2" />
<line x1="990.09" y1="708.2" x2="990.09" y2="713.5" stroke="#000" stroke-width="2.2" />
<line x1="1018.75" y1="1515.8" x2="1018.75" y2="1526.3" stroke="#000" stroke-width="2.2" />
<line x1="1018.75" y1="708.2" x2="1018.75" y2="718.7" stroke="#000" stroke-width="2.2" />
<text transform="translate(1018.75,1550.8) scale(1,1.08)" font-size="21.8" text-anchor="middle" fill="#000" >5.0</text>
<line x1="1047.41" y1="1515.8" x2="1047.41" y2="1521.1" stroke="#000" stroke-width="2.2" />
<line x1="1047.41" y1="708.2" x2="1047.41" y2="713.5" stroke="#000" stroke-width="2.2" />
<line x1="1076.06" y1="1515.8" x2="1076.06" y2="1526.3" stroke="#000" stroke-width="2.2" />
<line x1="1076.06" y1="708.2" x2="1076.06" y2="718.7" stroke="#000" stroke-width="2.2" />
<text transform="translate(1076.06,1550.8) scale(1,1.08)" font-size="21.8" text-anchor="middle" fill="#000" >5.5</text>
<line x1="1104.72" y1="1515.8" x2="1104.72" y2="1521.1" stroke="#000" stroke-width="2.2" />
<line x1="1104.72" y1="708.2" x2="1104.72" y2="713.5" stroke="#000" stroke-width="2.2" />
<line x1="1133.38" y1="1515.8" x2="1133.38" y2="1526.3" stroke="#000" stroke-width="2.2" />
<line x1="1133.38" y1="708.2" x2="1133.38" y2="718.7" stroke="#000" stroke-width="2.2" />
<text transform="translate(1133.38,1550.8) scale(1,1.08)" font-size="21.8" text-anchor="middle" fill="#000" >6.0</text>
<line x1="1162.04" y1="1515.8" x2="1162.04" y2="1521.1" stroke="#000" stroke-width="2.2" />
<line x1="1162.04" y1="708.2" x2="1162.04" y2="713.5" stroke="#000" stroke-width="2.2" />
<line x1="1190.7" y1="1515.8" x2="1190.7" y2="1526.3" stroke="#000" stroke-width="2.2" />
<text transform="translate(1190.7,1550.8) scale(1,1.08)" font-size="21.8" text-anchor="middle" fill="#000" >6.5</text>
<line x1="693" y1="1515.8" x2="703.5" y2="1515.8" stroke="#f00" stroke-width="2.2" />
<text transform="translate(687.1,1522.6) scale(1,1.08)" font-size="21.8" text-anchor="end" fill="#f00" >400</text>
<line x1="698.2" y1="1435.04" x2="703.5" y2="1435.04" stroke="#f00" stroke-width="2.2" />
<line x1="693" y1="1354.28" x2="703.5" y2="1354.28" stroke="#f00" stroke-width="2.2" />
<text transform="translate(687.1,1361.08) scale(1,1.08)" font-size="21.8" text-anchor="end" fill="#f00" >404</text>
<line x1="698.2" y1="1273.52" x2="703.5" y2="1273.52" stroke="#f00" stroke-width="2.2" />
<line x1="693" y1="1192.76" x2="703.5" y2="1192.76" stroke="#f00" stroke-width="2.2" />
<text transform="translate(687.1,1199.56) scale(1,1.08)" font-size="21.8" text-anchor="end" fill="#f00" >408</text>
<line x1="698.2" y1="1112" x2="703.5" y2="1112" stroke="#f00" stroke-width="2.2" />
<line x1="693" y1="1031.24" x2="703.5" y2="1031.24" stroke="#f00" stroke-width="2.2" />
<text transform="translate(687.1,1038.04) scale(1,1.08)" font-size="21.8" text-anchor="end" fill="#f00" >412</text>
<line x1="698.2" y1="950.48" x2="703.5" y2="950.48" stroke="#f00" stroke-width="2.2" />
<line x1="693" y1="869.72" x2="703.5" y2="869.72" stroke="#f00" stroke-width="2.2" />
<text transform="translate(687.1,876.52) scale(1,1.08)" font-size="21.8" text-anchor="end" fill="#f00" >416</text>
<line x1="698.2" y1="788.96" x2="703.5" y2="788.96" stroke="#f00" stroke-width="2.2" />
<line x1="693" y1="708.2" x2="703.5" y2="708.2" stroke="#f00" stroke-width="2.2" />
<text transform="translate(687.1,715) scale(1,1.08)" font-size="21.8" text-anchor="end" fill="#f00" >420</text>
<line x1="1180.2" y1="1515.8" x2="1190.7" y2="1515.8" stroke="#00f" stroke-width="2.2" />
<text transform="translate(1201.4,1522.6) scale(1,1.08)" font-size="21.8" text-anchor="start" fill="#00f" >52</text>
<line x1="1185.4" y1="1470.93" x2="1190.7" y2="1470.93" stroke="#00f" stroke-width="2.2" />
<line x1="1180.2" y1="1426.07" x2="1190.7" y2="1426.07" stroke="#00f" stroke-width="2.2" />
<text transform="translate(1201.4,1432.87) scale(1,1.08)" font-size="21.8" text-anchor="start" fill="#00f" >56</text>
<line x1="1185.4" y1="1381.2" x2="1190.7" y2="1381.2" stroke="#00f" stroke-width="2.2" />
<line x1="1180.2" y1="1336.33" x2="1190.7" y2="1336.33" stroke="#00f" stroke-width="2.2" />
<text transform="translate(1201.4,1343.13) scale(1,1.08)" font-size="21.8" text-anchor="start" fill="#00f" >60</text>
<line x1="1185.4" y1="1291.47" x2="1190.7" y2="1291.47" stroke="#00f" stroke-width="2.2" />
<line x1="1180.2" y1="1246.6" x2="1190.7" y2="1246.6" stroke="#00f" stroke-width="2.2" />
<text transform="translate(1201.4,1253.4) scale(1,1.08)" font-size="21.8" text-anchor="start" fill="#00f" >64</text>
<line x1="1185.4" y1="1201.73" x2="1190.7" y2="1201.73" stroke="#00f" stroke-width="2.2" />
<line x1="1180.2" y1="1156.87" x2="1190.7" y2="1156.87" stroke="#00f" stroke-width="2.2" />
<text transform="translate(1201.4,1163.67) scale(1,1.08)" font-size="21.8" text-anchor="start" fill="#00f" >68</text>
<line x1="1185.4" y1="1112" x2="1190.7" y2="1112" stroke="#00f" stroke-width="2.2" />
<line x1="1180.2" y1="1067.13" x2="1190.7" y2="1067.13" stroke="#00f" stroke-width="2.2" />
<text transform="translate(1201.4,1073.93) scale(1,1.08)" font-size="21.8" text-anchor="start" fill="#00f" >72</text>
<line x1="1185.4" y1="1022.27" x2="1190.7" y2="1022.27" stroke="#00f" stroke-width="2.2" />
<line x1="1180.2" y1="977.4" x2="1190.7" y2="977.4" stroke="#00f" stroke-width="2.2" />
<text transform="translate(1201.4,984.2) scale(1,1.08)" font-size="21.8" text-anchor="start" fill="#00f" >76</text>
<line x1="1185.4" y1="932.53" x2="1190.7" y2="932.53" stroke="#00f" stroke-width="2.2" />
<line x1="1180.2" y1="887.67" x2="1190.7" y2="887.67" stroke="#00f" stroke-width="2.2" />
<text transform="translate(1201.4,894.47) scale(1,1.08)" font-size="21.8" text-anchor="start" fill="#00f" >80</text>
<line x1="1185.4" y1="842.8" x2="1190.7" y2="842.8" stroke="#00f" stroke-width="2.2" />
<line x1="1180.2" y1="797.93" x2="1190.7" y2="797.93" stroke="#00f" stroke-width="2.2" />
<text transform="translate(1201.4,804.73) scale(1,1.08)" font-size="21.8" text-anchor="start" fill="#00f" >84</text>
<line x1="1185.4" y1="753.07" x2="1190.7" y2="753.07" stroke="#00f" stroke-width="2.2" />
<line x1="1180.2" y1="708.2" x2="1190.7" y2="708.2" stroke="#00f" stroke-width="2.2" />
<text transform="translate(1201.4,715) scale(1,1.08)" font-size="21.8" text-anchor="start" fill="#00f" >88</text>
<text transform="translate(716,759.8) scale(1,1.05)" font-size="33.2" text-anchor="start" fill="#000" font-weight="bold" >d)</text>
<text transform="translate(855.5,1596.5) scale(1,1.08)" font-size="26.4">Fluence (J/cm<tspan font-size="15.5" dx="0.6" dy="-12.7">2</tspan><tspan dy="12.7">)</tspan></text>
<text transform="translate(639.5,1088.6) rotate(-90) scale(1,1.04)" font-size="27" text-anchor="middle" fill="#f00">SPR peak position (nm)</text>
<text transform="translate(1264.6,1099.7) rotate(-90) scale(1,1.04)" font-size="27.2" text-anchor="middle" fill="#00f">FWHM (nm)</text>
<line x1="889" y1="744" x2="899.6" y2="744" stroke="#f00" stroke-width="2.4" />
<line x1="927" y1="744" x2="936.6" y2="744" stroke="#f00" stroke-width="2.4" />
<circle cx="918.6" cy="744" r="6.6" fill="url(#gr)"/>
<line x1="892" y1="787" x2="902" y2="787" stroke="#00f" stroke-width="2.4" />
<line x1="930" y1="787" x2="939.6" y2="787" stroke="#00f" stroke-width="2.4" />
<circle cx="921.6" cy="787" r="6.6" fill="url(#gb)"/>
<text transform="translate(955.9,753.6) scale(1,1.08)" font-size="26.35" text-anchor="start" fill="#000" >SPR peak position</text>
<text transform="translate(958.2,796.4) scale(1,1.08)" font-size="26.35" text-anchor="start" fill="#000" >FWHM</text>
</svg>
</body></html>
